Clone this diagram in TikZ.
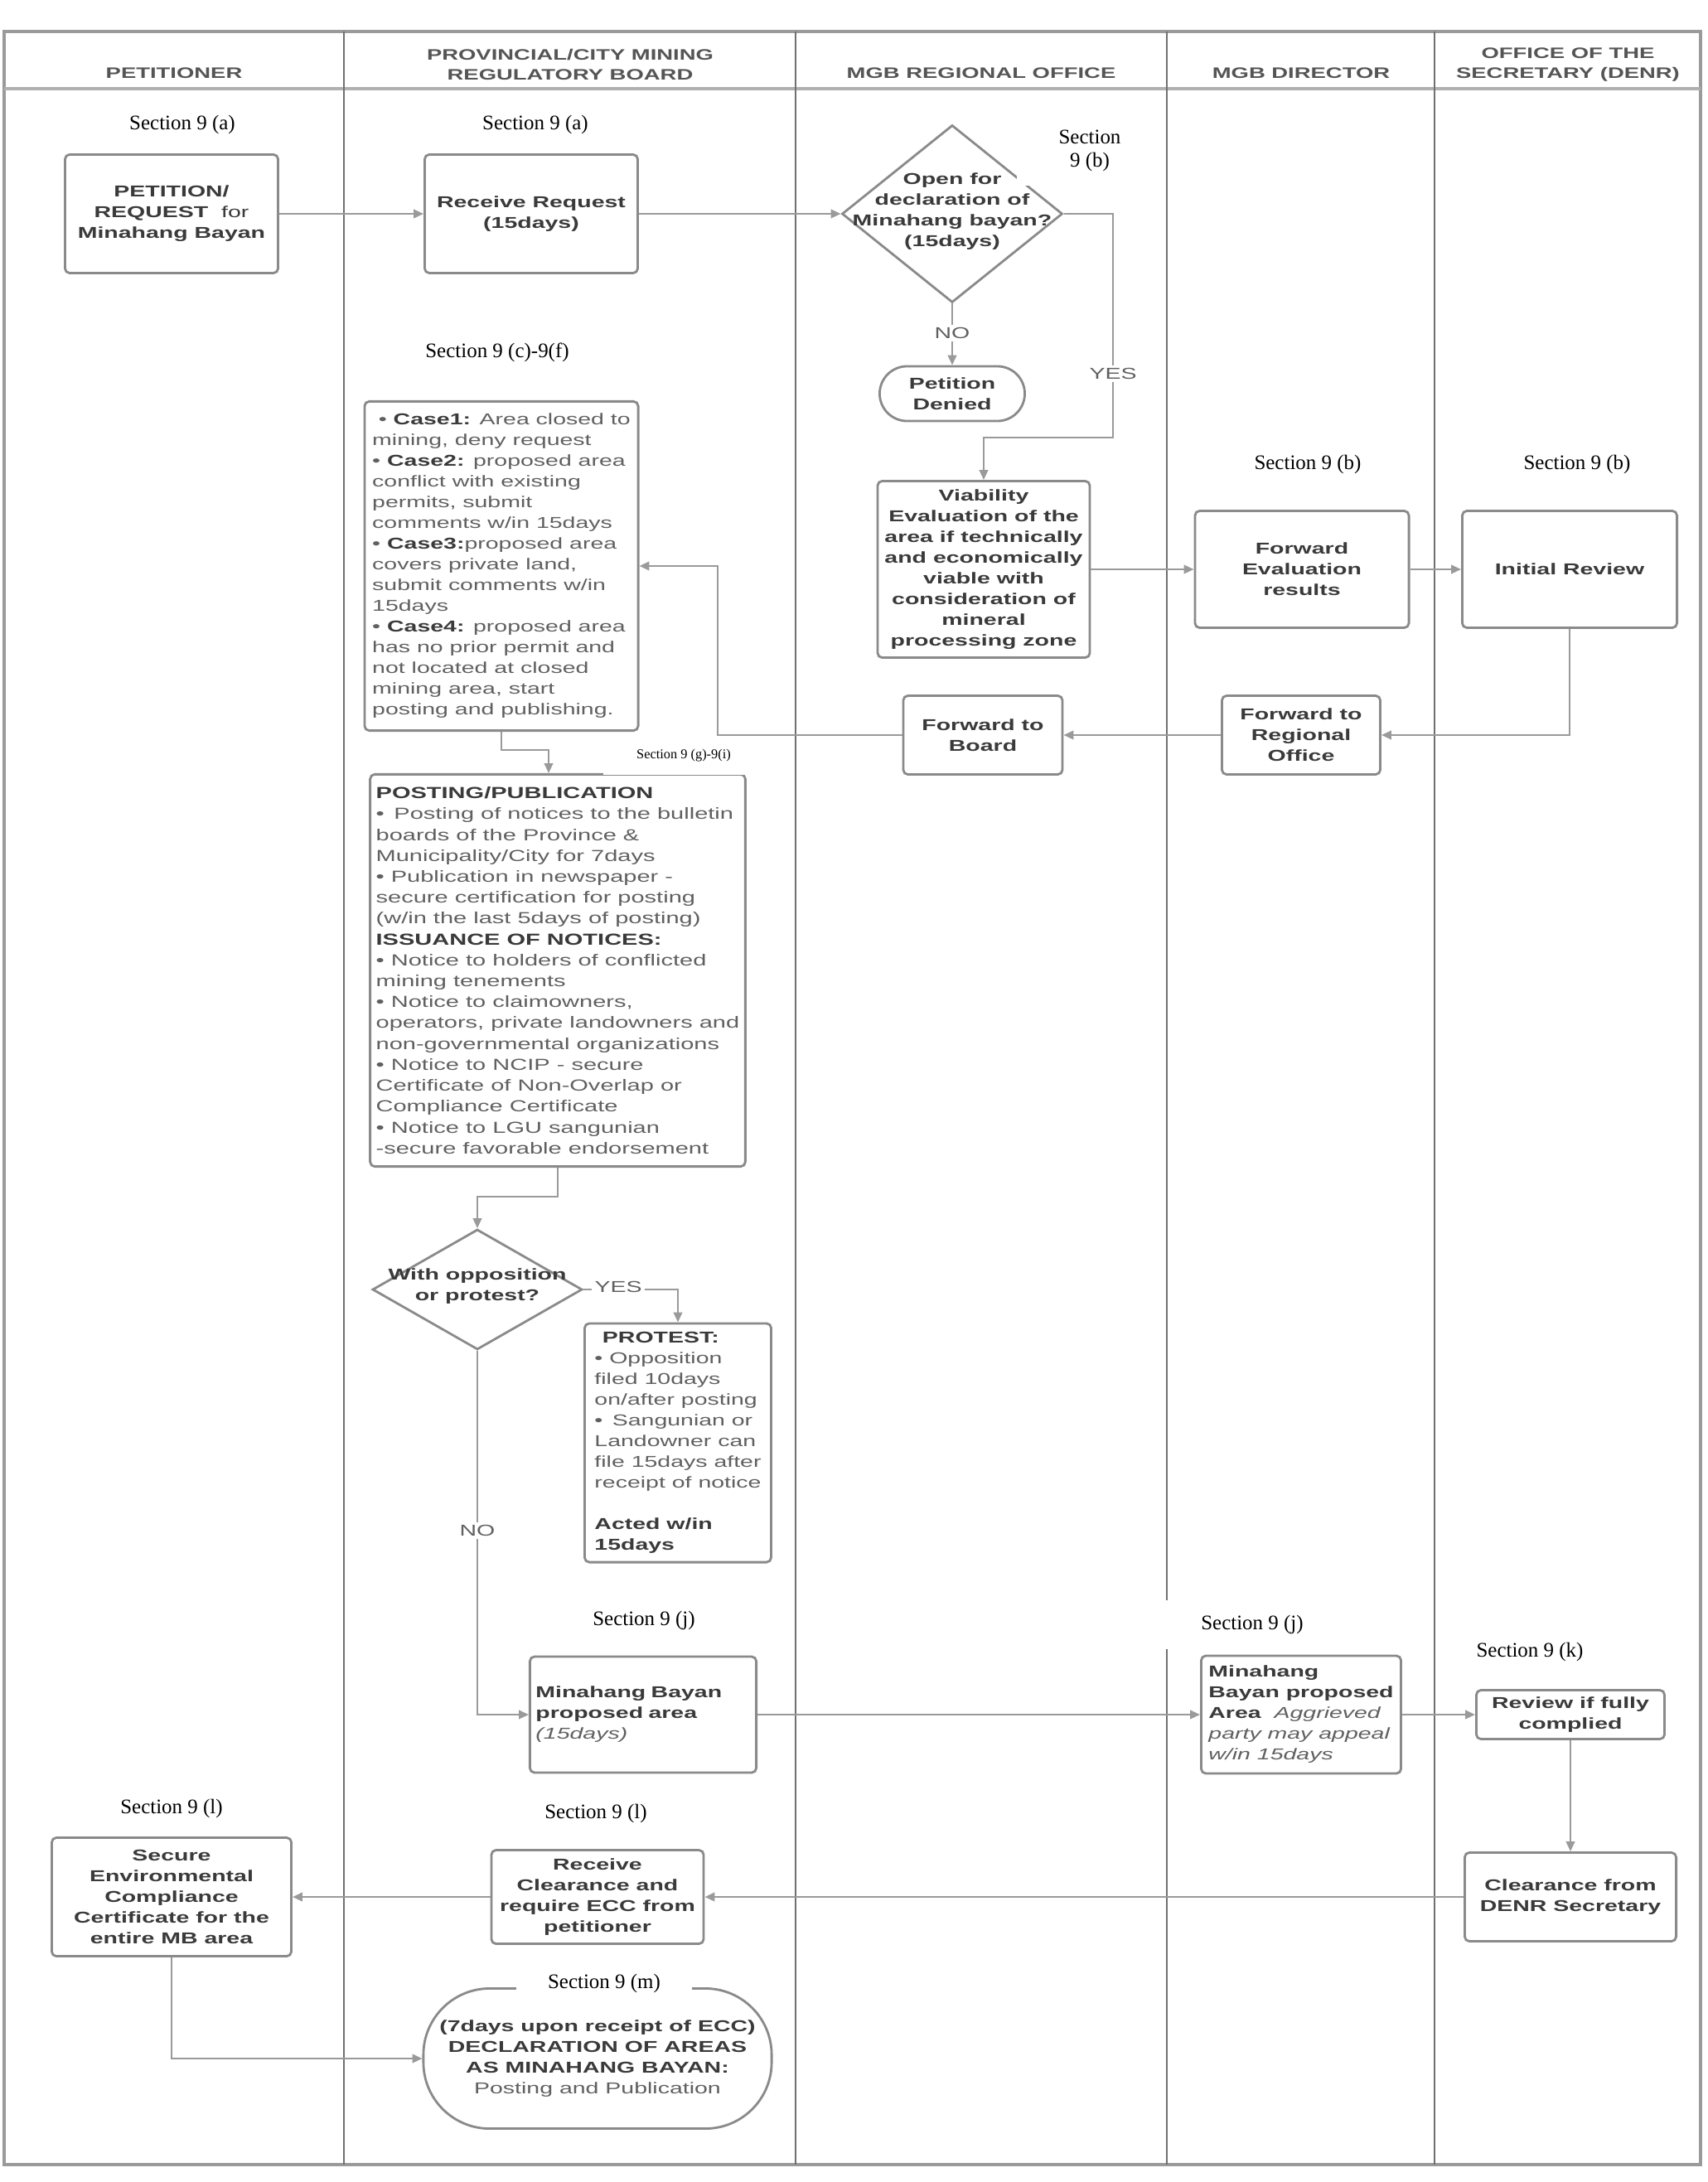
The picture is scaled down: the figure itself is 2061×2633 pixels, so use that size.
\documentclass[tikz,border=0pt]{standalone}
\usepackage{fontspec}
\setmainfont{Liberation Serif}
\setsansfont{Liberation Sans}[FakeStretch=1.5]
\usetikzlibrary{positioning}
\usetikzlibrary{arrows.meta,shapes.geometric}
\definecolor{linegray}{HTML}{9A9A9A}
\definecolor{boxgray}{HTML}{8A8A8A}
\definecolor{lanegray}{HTML}{707070}
\definecolor{framegray}{HTML}{9A9A9A}
\definecolor{hdrline}{HTML}{B0B0B0}
\definecolor{hdrgray}{HTML}{555555}
\definecolor{txtdark}{HTML}{3A3A3A}
\definecolor{txtmid}{HTML}{606060}
\newcommand{\boxfont}{\sffamily\fontsize{5.4}{7.11}\selectfont}
\newcommand{\postfont}{\sffamily\fontsize{5.5}{7.17}\selectfont}
\newcommand{\secfont}{\rmfamily\fontsize{7.1}{8}\selectfont}
\newcommand{\hdrfont}{\sffamily\bfseries\fontsize{5.2}{6.83}\selectfont}
\newcommand{\hl}[1]{{\bfseries\color{txtdark}#1}}
\begin{document}
\begin{tikzpicture}[x=0.01cm,y=-0.01cm,
  lane/.style={draw=lanegray,line width=0.55pt},
  box/.style={draw=boxgray,line width=0.8pt,rounded corners=1.6pt,fill=white,inner sep=2pt,font=\boxfont\bfseries,text=txtdark,align=center},
  lbox/.style={box,font=\boxfont,text=txtmid,align=left},
  decision/.style={diamond,draw=boxgray,line width=0.8pt,inner sep=0pt},
  dtxt/.style={font=\boxfont\bfseries,text=txtdark,align=center,inner sep=0pt},
  arr/.style={draw=linegray,line width=0.65pt,-{Triangle[length=3.4pt,width=3pt]}},
  sec/.style={font=\secfont,inner sep=1pt},
  secbg/.style={sec,fill=white},
  yn/.style={font=\boxfont,text=txtmid,fill=white,inner sep=1pt},
  hdr/.style={font=\hdrfont,text=hdrgray,align=center}]
\useasboundingbox (0,0) rectangle (2061,2633);
\draw [draw=framegray,line width=0.9pt] (5,38) rectangle (2052,2612);
\draw [draw=hdrline,line width=1.4pt] (5,107) -- (2052,107);
\foreach \x in {415,960,1408,1731}
  \draw [lane] (\x,38) -- (\x,2612);
\node[hdr] (hpet) at (210,88) {PETITIONER};
\node[hdr] (hboard) at (688,78) {PROVINCIAL/CITY MINING\\REGULATORY BOARD};
\node[hdr] (hreg) at (1184,88) {MGB REGIONAL OFFICE};
\node[hdr] (hdir) at (1570,88) {MGB DIRECTOR};
\node[hdr] (hsec) at (1892,78) {OFFICE OF THE\\SECRETARY (DENR)};

\node[box,minimum width=2.57cm,minimum height=1.43cm] (pet) at (207,258) {PETITION/\\REQUEST~ {\mdseries for}\\Minahang Bayan};
\node[box,minimum width=2.57cm,minimum height=1.43cm] (recv) at (641,258) {Receive Request\\(15days)};
\node[decision,minimum width=2.66cm,minimum height=2.14cm] (open) at (1149,258) {};
\node[dtxt] (opentxt) at (1149,255) {Open for\\declaration of\\Minahang bayan?\\(15days)};
\node[box,rounded corners=0.33cm,minimum width=1.75cm,minimum height=0.66cm] (denied) at (1149,475) {Petition\\Denied};
\node[box,minimum width=2.56cm,minimum height=2.13cm] (viab) at (1187,687) {Viability\\Evaluation of the\\area if technically\\and economically\\viable with\\consideration of\\mineral\\processing zone};
\node[box,minimum width=2.58cm,minimum height=1.41cm] (fwdeval) at (1571,687) {Forward\\Evaluation\\results};
\node[box,minimum width=2.59cm,minimum height=1.41cm] (initrev) at (1894,687) {Initial Review};
\node[box,minimum width=1.91cm,minimum height=0.95cm] (fwdreg) at (1570,887) {Forward to\\Regional\\Office};
\node[box,minimum width=1.92cm,minimum height=0.95cm] (fwdboard) at (1186,887) {Forward to\\Board};
\node[lbox,minimum width=3.3cm,minimum height=3.97cm] (cases) at (605,683) {\hspace*{0.4em}• \hl{Case1:} Area closed to\\mining, deny request\\• \hl{Case2:} proposed area\\conflict with existing\\permits, submit\\comments w/in 15days\\• \hl{Case3:}proposed area\\covers private land,\\submit comments w/in\\15days\\• \hl{Case4:} proposed area\\has no prior permit and\\not located at closed\\mining area, start\\posting and publishing.};
\node[lbox,font=\postfont,minimum width=4.52cm,minimum height=4.73cm] (posting) at (673,1171) {\hl{POSTING/PUBLICATION}\\•\hspace*{0.6em}Posting of notices to the bulletin\\boards of the Province \&\\Municipality/City for 7days\\• Publication in newspaper -\\secure certification for posting\\(w/in the last 5days of posting)\\\hl{ISSUANCE OF NOTICES:}\\• Notice to holders of conflicted\\mining tenements\\• Notice to claimowners,\\operators, private landowners and\\non-governmental organizations\\• Notice to NCIP - secure\\Certificate of Non-Overlap or\\Compliance Certificate\\• Notice to LGU sangunian\\-secure favorable endorsement};
\node[decision,minimum width=2.53cm,minimum height=1.45cm] (opp) at (576,1556) {};
\node[dtxt] (opptxt) at (576,1552) {With opposition\\or protest?};
\node[lbox,minimum width=2.25cm,minimum height=2.88cm] (protest) at (818,1741) {\hspace*{0.5em}\hl{PROTEST:}\\• Opposition\\filed 10days\\on/after posting\\•\hspace*{0.6em}Sangunian or\\Landowner can\\file 15days after\\receipt of notice\\[7.11pt]\hl{Acted w/in}\\\hl{15days}};
\node[lbox,text width=2.59cm,minimum height=1.4cm] (mbprop) at (776,2069) {\hl{Minahang Bayan}\\\hl{proposed area}\\\textit{(15days)}};
\node[lbox,minimum width=2.41cm,minimum height=1.42cm] (mbdir) at (1570,2069) {\hl{Minahang}\\\hl{Bayan proposed}\\\hl{Area}\ \ \textit{Aggrieved}\\\textit{party may appeal}\\\textit{w/in 15days}};
\node[box,minimum width=2.27cm,minimum height=0.59cm] (review) at (1895,2069) {Review if fully\\complied};
\node[box,minimum width=2.55cm,minimum height=1.07cm] (clear) at (1895,2289) {Clearance from\\DENR Secretary};
\node[box,minimum width=2.56cm,minimum height=1.13cm] (recvclr) at (721,2289) {Receive\\Clearance and\\require ECC from\\petitioner};
\node[box,minimum width=2.89cm,minimum height=1.43cm] (secure) at (207,2289) {Secure\\Environmental\\Compliance\\Certificate for the\\entire MB area};
\node[box,rounded corners=0.8cm,minimum width=4.2cm,minimum height=1.69cm] (decl) at (721,2484) {(7days upon receipt of ECC)\\DECLARATION OF AREAS\\AS MINAHANG BAYAN:\\{\mdseries\color{txtmid}Posting and Publication}};

\coordinate (yesbend) at (1343,528);
\coordinate (backbend) at (866,683);
\coordinate (casejog) at (662,905);
\coordinate (postjog) at (576,1444);
\draw [arr] (pet.east) -- (recv.west);
\draw [arr] (recv.east) -- (open.west);
\draw [arr] (open.south) -- (denied.north);
\draw [arr] (open.east) -| (yesbend) -| (viab.north);
\draw [arr] (viab.east) -- (fwdeval.west);
\draw [arr] (fwdeval.east) -- (initrev.west);
\draw [arr] (initrev.south) |- (fwdreg.east);
\draw [arr] (fwdreg.west) -- (fwdboard.east);
\draw [arr] (fwdboard.west) -| (backbend) -- (cases.east);
\draw [arr] (cases.south) |- (casejog) -- (casejog |- posting.north);
\draw [arr] (posting.south) |- (postjog) -- (opp.north);
\draw [arr] (opp.east) -| (protest.north);
\draw [arr] (opp.south) |- (mbprop.west);
\draw [arr] (mbprop.east) -- (mbdir.west);
\draw [arr] (mbdir.east) -- (review.west);
\draw [arr] (review.south) -- (clear.north);
\draw [arr] (clear.west) -- (recvclr.east);
\draw [arr] (recvclr.west) -- (secure.east);
\draw [arr] (secure.south) |- (decl.west);

\node[yn] (no1) at (1149,402) {NO};
\node[yn] (yes1) at (1343,451) {YES};
\node[yn] (yes2) at (746,1553) {YES};
\node[yn] (no2) at (576,1847) {NO};

\node[sec] (s9a1) at (220,150) {Section 9 (a)};
\node[sec] (s9a2) at (646,150) {Section 9 (a)};
\node[secbg,align=center,minimum width=1.76cm,minimum height=0.84cm] (s9b1) at (1315,182) {Section\\9 (b)};
\node[sec] (s9cf) at (600,425) {Section 9 (c)-9(f)};
\node[secbg,font=\rmfamily\fontsize{4.65}{5}\selectfont,minimum width=1.94cm,minimum height=0.46cm] (s9gi) at (825,912) {Section 9 (g)-9(i)};
\node[sec] (s9b2) at (1578,560) {Section 9 (b)};
\node[sec] (s9b3) at (1903,560) {Section 9 (b)};
\node[sec] (s9j1) at (777,1955) {Section 9 (j)};
\node[secbg,minimum width=2.22cm,minimum height=0.59cm] (s9j2) at (1511,1960) {Section 9 (j)};
\node[sec] (s9k) at (1846,1993) {Section 9 (k)};
\node[sec] (s9l1) at (207,2182) {Section 9 (l)};
\node[sec] (s9l2) at (719,2188) {Section 9 (l)};
\node[secbg,minimum width=2.12cm,minimum height=0.3cm] (s9m) at (729,2393) {Section 9 (m)};
\end{tikzpicture}
\end{document}
